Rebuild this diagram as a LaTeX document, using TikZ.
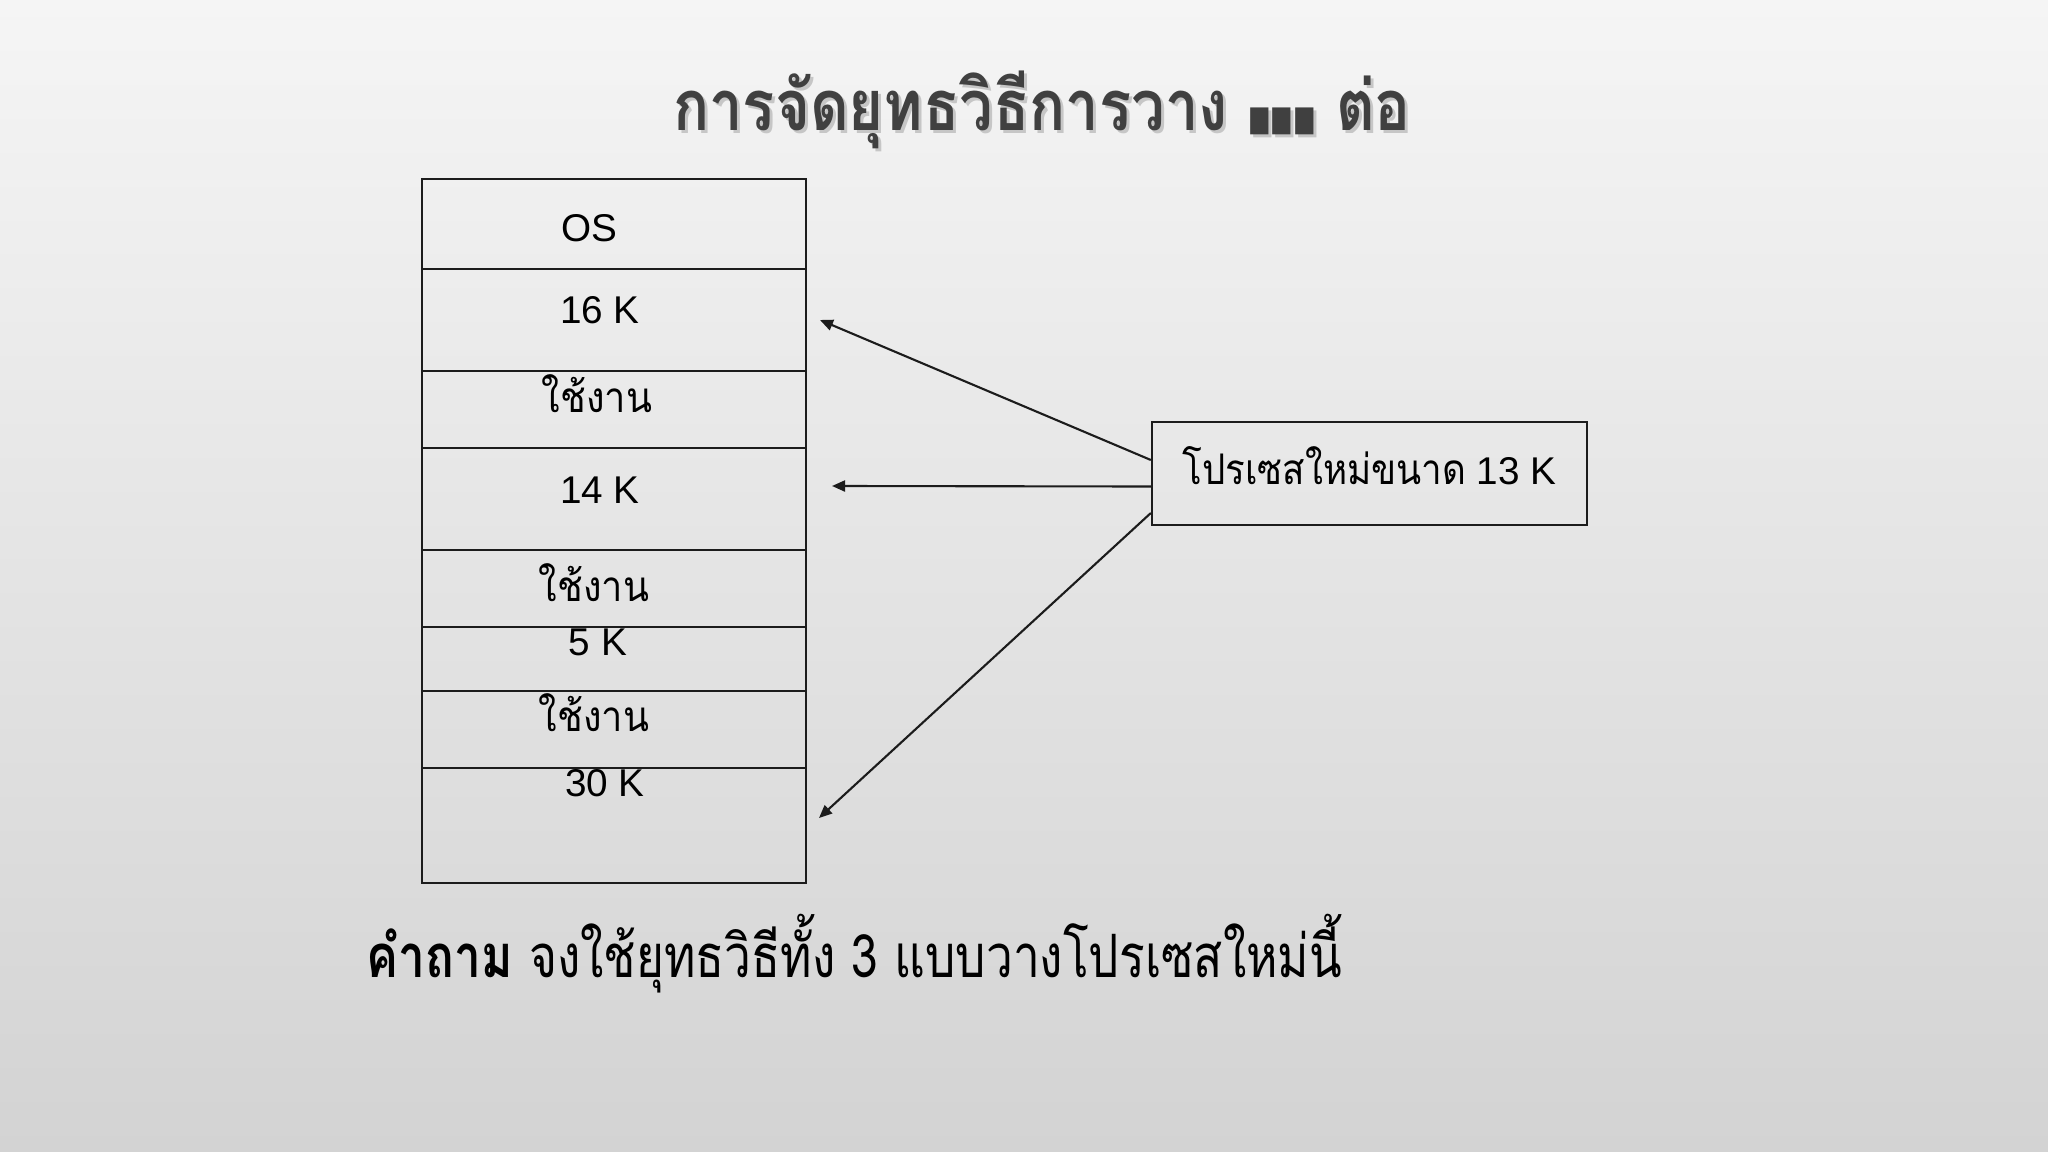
\documentclass[tikz,border=0pt]{standalone}
\usepackage{fontspec}
\usepackage{graphicx}
\setmainfont{Liberation Sans}
\newfontfamily\thaifont[Script=Thai]{Loma}
\newfontfamily\symfont{DejaVu Sans}
\usetikzlibrary{arrows.meta}
\definecolor{titlegray}{HTML}{404040}
\definecolor{linegray}{HTML}{1C1C1C}
\definecolor{bgtop}{HTML}{F5F5F5}
\definecolor{bgmid}{HTML}{EBEBEB}
\definecolor{bgbottom}{HTML}{D3D3D3}
\newcommand{\titletext}{\scalebox{.85}[1]{การจัดยุทธวิธีการวาง {\symfont\fontsize{10}{10}\selectfont\scalebox{.8}[1]{■■■}} ต่อ}}
\newcommand{\usedtext}{\scalebox{.9}[1]{ใช้งาน}}

\begin{document}
\begin{tikzpicture}[x=0.01cm, y=-0.01cm]
		\tikzstyle{every node} = [inner sep=0pt, text=black, font=\fontsize{11}{13}\selectfont]
		\tikzstyle{thai} = [font=\thaifont\fontsize{12}{14}\selectfont, anchor=base]
		\tikzstyle{titlefont} = [anchor=base, font=\thaifont\bfseries\fontsize{20}{24}\selectfont]
		\tikzstyle{memline} = [linegray, line width=.6pt]
		\tikzstyle{arrowline} = [linegray, line width=.6pt, -{Triangle[length=.13cm, width=.11cm]}]

		% background
		\shade[top color=bgtop, middle color=bgmid, bottom color=bgbottom] (0,0) rectangle (2048,1152);
		\useasboundingbox (0,0) rectangle (2048,1152);

		% title
		\node[titlefont, text=gray!45] (titleshadow) at (1045,134) {\titletext};
		\node[titlefont, text=titlegray] (title) at (1042,131) {\titletext};

		% memory stack
		\draw[memline] (422,179) rectangle (806,883);
		\foreach \y in {269,371,448,550,627,691,768}
		{
			\draw[memline] (422,\y) -- (806,\y);
		}
		\node (os) at (589,228) {OS};
		\node (k16) at (600,310) {16 K};
		\node[thai] (used1) at (597,413) {\usedtext};
		\node (k14) at (600,490) {14 K};
		\node[thai] (used2) at (594,602) {\usedtext};
		\node (k5) at (598,642) {5 K};
		\node[thai] (used3) at (594,731) {\usedtext};
		\node (k30) at (605,783) {30 K};

		% new process
		\node[draw=linegray, line width=.6pt, minimum width=4.35cm, minimum height=1.03cm] (proc) at (1369.5,473.5)
			{\raisebox{.16cm}{{\thaifont\fontsize{12}{14}\selectfont\scalebox{.87}[1]{โปรเซสใหม่ขนาด}} 13 K}};
		\coordinate (t16) at (820,320);
		\coordinate (t14) at (832,486);
		\coordinate (t30) at (819,818);
		\draw[arrowline] ([yshift=.135cm]proc.west) -- (t16);
		\draw[arrowline] ([yshift=-.13cm]proc.west) -- (t14);
		\draw[arrowline] ([yshift=-.395cm]proc.west) -- (t30);

		% question
		\node[anchor=base west, font=\thaifont\fontsize{17}{20}\selectfont] (question) at (366,977)
			{\scalebox{.8}[1]{\textbf{คำถาม} จงใช้ยุทธวิธีทั้ง 3 แบบวางโปรเซสใหม่นี้}};
\end{tikzpicture}
\end{document}
